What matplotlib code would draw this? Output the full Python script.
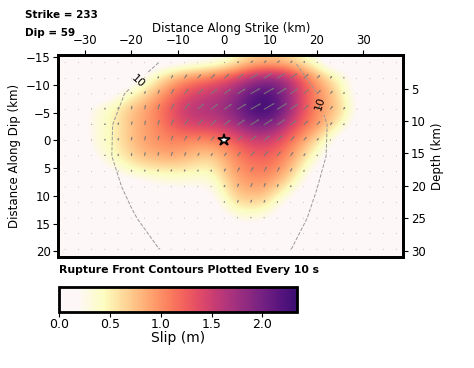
import matplotlib
matplotlib.use('Agg')
import matplotlib.pyplot as plt
import numpy as np
from matplotlib.colors import LinearSegmentedColormap

# fault geometry
strike_angle = 233
dip_angle = 59
hypo_depth = 13.0          # km
dx, dz = 2.86, 2.8         # subfault size along strike / dip (km)
hypo_col, hypo_row = 12, 5

# slip (m) per subfault, rows go down dip
slip = np.array([
    [0,0,0,0,0,0,0,0,0,.05,.1,.15, .25,.45,.65,.7,.7,.6,.45,.25, 0,0,0,0,0,0],
    [0,0,0,0,0,0,.2,.5,.75,.95,1.05,1.15, 1.3,1.45,1.65,1.8,1.8,1.6,1.25,.9,.6,.35,.1,0,0,0],
    [0,0,0,0,.15,.4,.6,.85,1.1,1.3,1.45,1.55, 1.65,1.85,2.1,2.25,2.1,1.75,1.35,1.05,.8,.45,.15,0,0,0],
    [0,.05,.25,.4,.55,.75,.9,1.1,1.3,1.55,1.65,1.7, 1.8,2.0,2.25,2.34,2.2,1.8,1.35,1.0,.85,.6,.2,0,0,0],
    [0,0,.25,.4,.55,.75,.9,1.05,1.25,1.4,1.5,1.5, 1.6,1.75,1.95,2.0,1.85,1.5,1.2,1.0,.7,.4,.1,0,0,0],
    [0,0,.25,.4,.55,.75,.9,1.0,1.05,1.05,1.0,1.05, 1.15,1.3,1.45,1.5,1.4,1.15,.9,.6,.3,0,0,0,0,0],
    [0,0,.15,.35,.5,.65,.8,.85,.9,.85,.75,.7, .85,1.05,1.2,1.25,1.15,.95,.65,.35,.1,0,0,0,0,0],
    [0,0,0,.1,.25,.4,.45,.5,.5,.5,.45,.45, .7,.95,1.05,1.1,1.0,.75,.4,.1,0,0,0,0,0,0],
    [0,0,0,0,0,0,.05,.15,.2,.2,.2,.25, .5,.8,.9,.9,.7,.45,.15,0,0,0,0,0,0,0],
    [0]*11 + [.1,.35,.6,.65,.6,.35,.1] + [0]*8,
    [0]*12 + [.1,.25,.3,.25,.1] + [0]*9,
    [0]*26,
    [0]*26,
])

# rake (deg) per subfault
rake = np.array([
    [80]*12 + [45,40,40,40,40,45,50,55] + [60]*6,
    [80]*7 + [70,60,55,50,45] + [40,35,32,32,32,35,40,45,50,55] + [60]*4,
    [85]*5 + [80,78,70,60,50,42,38] + [35,32,30,30,32,35,40,45,50,55] + [60]*4,
    [85]*4 + [82,80,78,72,62,50,42,38] + [35,32,30,30,32,36,42,48,52,55] + [60]*4,
    [85]*4 + [82,80,78,74,66,54,46,42] + [38,35,33,33,35,38,44,50,54,56] + [60]*4,
    [85]*5 + [82,80,75,70,62,55,50] + [45,42,40,40,42,45,50,55,60,60] + [60]*4,
    [85]*6 + [82,78,72,68,65,60] + [55,52,50,50,52,55,60,65,65,65] + [65]*4,
    [80]*9 + [75,72,70] + [65,62,60,60,62,65,70,70,70,70] + [70]*4,
    [70]*26, [70]*26, [70]*26, [70]*26, [70]*26,
])

# rupture time (s) on every other subfault (rows 0,2,..,12 ; cols 1,3,..,25)
rupt_time = np.array([
    [17.2, 14.6, 12.2, 10.05, 8.2, 7.1, 6.9, 7.9, 9.6, 11.7, 14.1, 16.6, 19.1],
    [14.1, 11.7, 9.4, 7.2, 5.2, 3.9, 4.1, 5.5, 7.6, 9.95, 12.4, 15.0, 17.5],
    [13.0, 10.7, 8.3, 6.0, 3.7, 1.7, 1.8, 4.0, 6.5, 9.0, 11.6, 14.1, 16.7],
    [12.9, 10.6, 8.3, 6.0, 3.7, 1.6, 1.8, 4.1, 6.6, 9.1, 11.7, 14.3, 16.9],
    [13.7, 11.4, 9.2, 7.0, 5.1, 3.8, 4.1, 5.5, 7.6, 9.95, 12.4, 15.0, 17.5],
    [14.7, 12.5, 10.4, 8.5, 7.0, 6.1, 6.3, 7.2, 8.8, 10.7, 12.9, 15.2, 17.5],
    [15.5, 13.5, 11.6, 10.1, 8.9, 8.3, 8.2, 8.8, 9.95, 11.5, 13.3, 15.3, 17.3],
])

n_dip, n_str = slip.shape
x = (np.arange(n_str) - hypo_col) * dx
z = (np.arange(n_dip) - hypo_row) * dz
X, Z = np.meshgrid(x, z)
extent = [x[0] - dx/2, x[-1] + dx/2, z[-1] + dz/2, z[0] - dz/2]

# white -> magma_r (cut before black)
magma = plt.get_cmap('magma')
stops = [(0.0, '#fdf7f7'), (0.08, '#fdf7f7')]
for t in np.linspace(0.19, 1.0, 30):
    stops.append((t, magma(1.0 - 0.8 * (t - 0.19) / 0.81)))
cmap = LinearSegmentedColormap.from_list('slip', stops)

fig = plt.figure(figsize=(4.74, 3.68), dpi=100)
ax = fig.add_axes([0.1234, 0.3016, 0.727, 0.549])

im = ax.imshow(slip, extent=extent, cmap=cmap, vmin=0, vmax=slip.max(),
               interpolation='bicubic', aspect='auto')

U = slip * np.cos(np.radians(rake))
V = slip * np.sin(np.radians(rake))
ax.quiver(X, Z, U, V, color='#7a7a7a', scale=19, scale_units='inches',
          width=0.0028, headwidth=2.2, headlength=2.2, headaxislength=2.0,
          minlength=0.8)

cs = ax.contour(x[1::2], z[0::2], rupt_time, levels=[10], colors='#9a9a9a',
                linestyles='--', linewidths=0.7)
labels = ax.clabel(cs, fmt='%d', fontsize=8, colors='k',
                   manual=[(-18.2, -10.3), (20.6, -6.6)])
for t in labels:
    t.set_rotation(-t.get_rotation())

ax.plot(0, 0, marker='*', ms=9, mfc='white', mec='black', mew=1.2)

ax.set_xlim(extent[0], extent[1])
ax.set_ylim(extent[2], extent[3])
ax.xaxis.tick_top()
ax.xaxis.set_label_position('top')
ax.set_xticks([-30, -20, -10, 0, 10, 20, 30])
ax.set_yticks([-15, -10, -5, 0, 5, 10, 15, 20])
ax.set_xlabel('Distance Along Strike (km)', fontsize=8.5, labelpad=2)
ax.set_ylabel('Distance Along Dip (km)', fontsize=8.5)
ax.tick_params(labelsize=8.5, pad=2)
for sp in ax.spines.values():
    sp.set_linewidth(2)

ax2 = ax.twinx()
sd = np.sin(np.radians(dip_angle))
ax2.set_ylim(hypo_depth + extent[2] * sd, hypo_depth + extent[3] * sd)
ax2.set_yticks([5, 10, 15, 20, 25, 30])
ax2.set_ylabel('Depth (km)', fontsize=8.5)
ax2.tick_params(labelsize=8.5, pad=2)
for sp in ax2.spines.values():
    sp.set_linewidth(2)

fig.text(0.053, 0.959, 'Strike = %d' % strike_angle, fontsize=7.5,
         fontweight='bold', va='center')
fig.text(0.053, 0.91, 'Dip = %d' % dip_angle, fontsize=7.5,
         fontweight='bold', va='center')
fig.text(0.1245, 0.266, 'Rupture Front Contours Plotted Every 10 s',
         fontsize=7.8, fontweight='bold', va='center')

cax = fig.add_axes([0.1245, 0.152, 0.502, 0.068])
cb = fig.colorbar(im, cax=cax, orientation='horizontal',
                  ticks=[0, 0.5, 1.0, 1.5, 2.0])
cb.outline.set_linewidth(2)
cb.set_label('Slip (m)', fontsize=10, labelpad=0)
cb.ax.tick_params(labelsize=9, pad=1)

fig.savefig('out.png', dpi=100)
